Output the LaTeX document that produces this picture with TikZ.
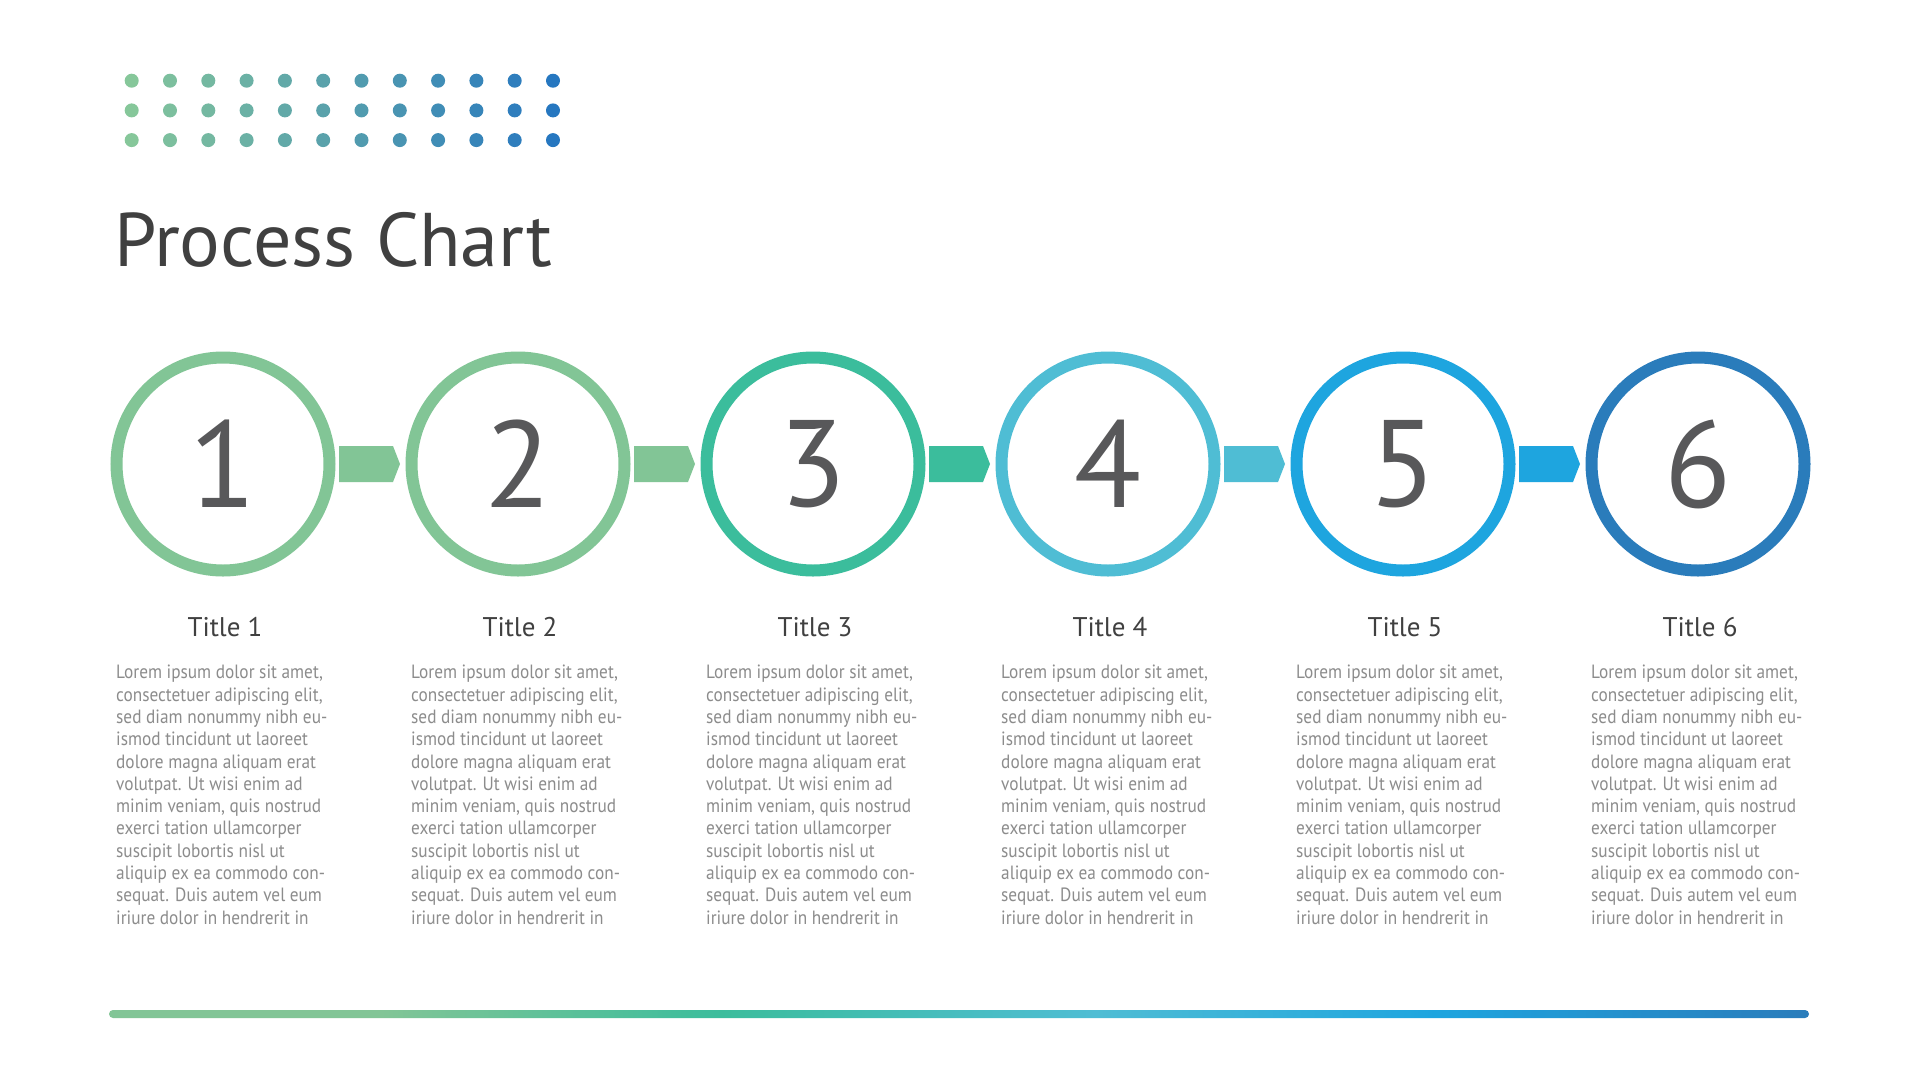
\documentclass[tikz,border=0pt]{standalone}
\usepackage{fontspec}
\setmainfont{PT Sans}
\newfontfamily\bodyfont[FakeStretch=0.9]{PT Sans}
\usetikzlibrary{calc}
\definecolor{cgA}{HTML}{82C596}
\definecolor{cgB}{HTML}{3BBD9C}
\definecolor{cgC}{HTML}{4FBDD4}
\definecolor{cgD}{HTML}{1EA5DF}
\definecolor{cgE}{HTML}{2A7CBB}
\definecolor{dotL}{HTML}{86C79A}
\definecolor{dotR}{HTML}{2677C0}
\definecolor{numgray}{HTML}{58585A}
\definecolor{titlegray}{HTML}{404040}
\definecolor{bodygray}{HTML}{8C8C8C}
\pgfdeclarehorizontalshading{linegrad}{100bp}{color(0bp)=(cgA); color(25bp)=(cgA); color(33bp)=(cgA); color(43bp)=(cgB); color(54bp)=(cgC); color(64bp)=(cgD); color(75bp)=(cgE); color(100bp)=(cgE)}
\tikzset{
  ring/.style={circle, line width=12pt, minimum size=213pt, inner sep=0pt,
    font=\fontsize{123}{123}\selectfont, text=numgray},
  steptitle/.style={anchor=base, inner sep=0pt, text=titlegray,
    font=\fontsize{27}{30}\selectfont},
  bodytext/.style={anchor=north west, inner sep=0pt, align=left, text=bodygray,
    font=\bodyfont\fontsize{19.2}{22.3}\selectfont},
  headline/.style={anchor=base west, inner sep=0pt, text=titlegray,
    font=\fontsize{76}{80}\selectfont},
}
\newcommand{\loremtext}{Lorem ipsum dolor sit amet,\\
consectetuer adipiscing elit,\\
sed diam nonummy nibh eu-\\
ismod tincidunt ut laoreet\\
dolore magna aliquam erat\\
volutpat. Ut wisi enim ad\\
minim veniam, quis nostrud\\
exerci tation ullamcorper\\
suscipit lobortis nisl ut\\
aliquip ex ea commodo con-\\
sequat. Duis autem vel eum\\
iriure dolor in hendrerit in}
\begin{document}
\begin{tikzpicture}[x=1pt,y=-1pt]
\fill[white] (0,0) rectangle (1920,1080);
\useasboundingbox (0,0) rectangle (1920,1080);
% dots
\foreach \i in {0,...,11}{
  \pgfmathtruncatemacro\pct{100-\i*100/11}
  \foreach \j in {0,1,2}{
    \fill[dotL!\pct!dotR] ({131.7+\i*38.3},{80.7+\j*29.7}) circle (7);
  }
}
% headline
\node[headline] (head) at (114,266) {Process Chart};
% circles
\foreach \i/\c in {1/cgA,2/cgA,3/cgB,4/cgC,5/cgD,6/cgE}{
  \node[ring, draw=\c] (c\i) at ({223+(\i-1)*295},464) {\i};
}
% arrows
\foreach \i/\j/\c in {1/2/cgA,2/3/cgA,3/4/cgB,4/5/cgC,5/6/cgD}{
  \fill[\c] ($(c\i.east)+(3.5,-18)$) -- ($(c\j.west)+(-12.5,-18)$)
    -- ($(c\j.west)+(-5.5,0)$) -- ($(c\j.west)+(-12.5,18)$)
    -- ($(c\i.east)+(3.5,18)$) -- cycle;
}
% titles and texts
\foreach \i in {1,...,6}{
  \node[steptitle] (t\i) at ({225+(\i-1)*295},636) {Title \i};
  \node[bodytext] (b\i) at ({116+(\i-1)*295},665) {\loremtext};
}
% bottom line
\shade[shading=linegrad, rounded corners=4pt] (109,1010) rectangle (1809,1018);
\end{tikzpicture}
\end{document}
